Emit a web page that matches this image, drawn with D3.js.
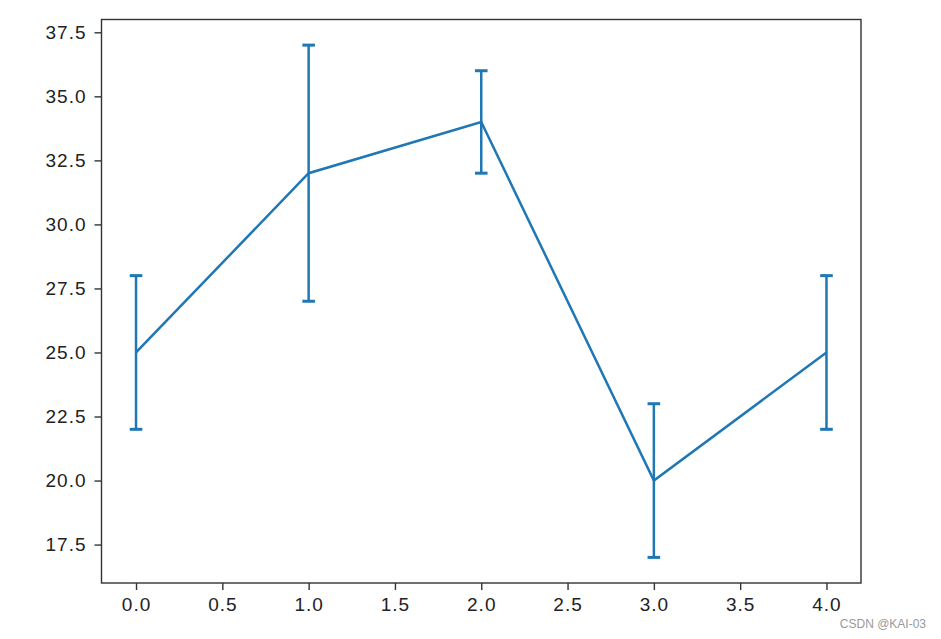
<!DOCTYPE html>
<html><head><meta charset="utf-8">
<script src="https://cdn.jsdelivr.net/npm/d3@7"></script>
<style>html,body{margin:0;padding:0;background:#fff;}svg{display:block;}</style>
</head><body>
<script>
const xs = [0, 1, 2, 3, 4];
const ys = [25, 32, 34, 20, 25];
const errs = [3, 5, 2, 3, 3];
const xTicks = [0, 0.5, 1, 1.5, 2, 2.5, 3, 3.5, 4];
const yTicks = [17.5, 20, 22.5, 25, 27.5, 30, 32.5, 35, 37.5];

const W = 941, H = 639;
const L = 101.5, R = 861, T = 19.5, B = 583;
const svg = d3.select("body").append("svg").attr("width", W).attr("height", H);
svg.append("rect").attr("width", W).attr("height", H).attr("fill", "#fff");

const x = d3.scaleLinear().domain([-0.2, 4.2]).range([L, R]);
const y = d3.scaleLinear().domain([16, 38]).range([B, T]);
const font = "'Liberation Sans', Arial, sans-serif";
const color = "#1f77b4";

const xAxis = svg.append("g").attr("transform", `translate(0,${B})`)
  .call(d3.axisBottom(x).tickValues(xTicks).tickFormat(d3.format(".1f")).tickSize(7).tickPadding(8));
const yAxis = svg.append("g").attr("transform", `translate(${L},0)`)
  .call(d3.axisLeft(y).tickValues(yTicks).tickFormat(d3.format(".1f")).tickSize(7).tickPadding(8));
[xAxis, yAxis].forEach(g => {
  g.select(".domain").remove();
  g.selectAll(".tick line").attr("stroke", "#333").attr("stroke-width", 1.4);
  g.selectAll(".tick text").attr("fill", "#222").style("font-family", font)
    .style("font-size", "19px").style("letter-spacing", "1px");
});

// spines
svg.append("rect").attr("x", L).attr("y", T).attr("width", R - L).attr("height", B - T)
  .attr("fill", "none").attr("stroke", "#333").attr("stroke-width", 1.4);

// line
const line = d3.line().x((d, i) => x(xs[i])).y(d => y(d));
svg.append("path").datum(ys).attr("d", line).attr("fill", "none")
  .attr("stroke", color).attr("stroke-width", 2.5);

// error bars
const eg = svg.append("g");
xs.forEach((xv, i) => {
  const cx = x(xv), lo = y(ys[i] - errs[i]), hi = y(ys[i] + errs[i]);
  eg.append("line").attr("x1", cx).attr("x2", cx).attr("y1", lo).attr("y2", hi)
    .attr("stroke", color).attr("stroke-width", 2.5);
  [lo, hi].forEach(yy => {
    eg.append("line").attr("x1", cx - 6.3).attr("x2", cx + 6.3).attr("y1", yy).attr("y2", yy)
      .attr("stroke", color).attr("stroke-width", 3);
  });
});

// watermark
svg.append("text").attr("x", 926).attr("y", 628).attr("text-anchor", "end")
  .style("font-family", font).style("font-size", "12px").attr("fill", "#999").text("CSDN @KAI-03");
</script>
</body></html>
